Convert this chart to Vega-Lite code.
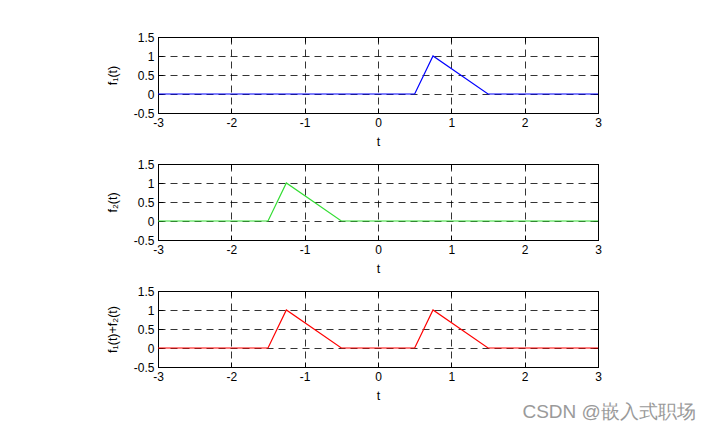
{
  "$schema": "https://vega.github.io/schema/vega-lite/v6.json",
  "padding": {"left": 105, "top": 30, "right": 5, "bottom": 5},
  "background": "white",
  "title": {
    "text": "CSDN @嵌入式职场",
    "orient": "bottom",
    "anchor": "end",
    "dx": 94,
    "offset": 1,
    "fontSize": 19,
    "fontWeight": "normal",
    "color": "#9a9a9a"
  },
  "config": {
    "font": "Liberation Sans",
    "view": {"stroke": "black", "strokeWidth": 1},
    "axis": {
      "labelFontSize": 12,
      "labelColor": "black",
      "labelPadding": 9,
      "labelFlush": false,
      "labelExpr": "'' + datum.value",
      "domainColor": "black",
      "tickColor": "black",
      "tickSize": -5,
      "gridColor": "black",
      "gridOpacity": 1,
      "gridDash": [7, 5],
      "gridWidth": 0.8,
      "titleFontSize": 12.5,
      "titleFontWeight": "normal",
      "titleColor": "black",
      "zindex": 1
    },
    "line": {"strokeWidth": 1.2}
  },
  "datasets": {
    "sig": [
      {"t": -3, "f1": 0, "f2": 0, "s": 0},
      {"t": -1.5, "f1": 0, "f2": 0, "s": 0},
      {"t": -1.25, "f1": 0, "f2": 1, "s": 1},
      {"t": -0.5, "f1": 0, "f2": 0, "s": 0},
      {"t": 0.5, "f1": 0, "f2": 0, "s": 0},
      {"t": 0.75, "f1": 1, "f2": 0, "s": 1},
      {"t": 1.5, "f1": 0, "f2": 0, "s": 0},
      {"t": 3, "f1": 0, "f2": 0, "s": 0}
    ]
  },
  "data": {"name": "sig"},
  "spacing": 9,
  "vconcat": [
    {
      "width": 440,
      "height": 76,
      "resolve": {"axis": {"x": "independent", "y": "independent"}},
      "layer": [
        {
          "mark": {"type": "line", "color": "#0000ff"},
          "encoding": {
            "x": {"field": "t", "type": "quantitative", "scale": {"domain": [-3, 3], "nice": false}, "axis": {"values": [-3, -2, -1, 0, 1, 2, 3], "title": "t", "titlePadding": 7}},
            "y": {"field": "f1", "type": "quantitative", "scale": {"domain": [-0.5, 1.5], "nice": false, "zero": false}, "axis": {"values": [-0.5, 0, 0.5, 1, 1.5], "title": "f₁(t)", "titlePadding": 14}}
          }
        },
        {
          "mark": {"type": "line", "opacity": 0},
          "encoding": {
            "x": {"field": "t", "type": "quantitative", "axis": {"orient": "top", "values": [-3, -2, -1, 0, 1, 2, 3], "labels": false, "grid": false, "title": null}},
            "y": {"field": "f1", "type": "quantitative", "axis": {"orient": "right", "values": [-0.5, 0, 0.5, 1, 1.5], "labels": false, "grid": false, "title": null}}
          }
        }
      ]
    },
    {
      "width": 440,
      "height": 76,
      "resolve": {"axis": {"x": "independent", "y": "independent"}},
      "layer": [
        {
          "mark": {"type": "line", "color": "#33dd33"},
          "encoding": {
            "x": {"field": "t", "type": "quantitative", "scale": {"domain": [-3, 3], "nice": false}, "axis": {"values": [-3, -2, -1, 0, 1, 2, 3], "title": "t", "titlePadding": 7}},
            "y": {"field": "f2", "type": "quantitative", "scale": {"domain": [-0.5, 1.5], "nice": false, "zero": false}, "axis": {"values": [-0.5, 0, 0.5, 1, 1.5], "title": "f₂(t)", "titlePadding": 14}}
          }
        },
        {
          "mark": {"type": "line", "opacity": 0},
          "encoding": {
            "x": {"field": "t", "type": "quantitative", "axis": {"orient": "top", "values": [-3, -2, -1, 0, 1, 2, 3], "labels": false, "grid": false, "title": null}},
            "y": {"field": "f2", "type": "quantitative", "axis": {"orient": "right", "values": [-0.5, 0, 0.5, 1, 1.5], "labels": false, "grid": false, "title": null}}
          }
        }
      ]
    },
    {
      "width": 440,
      "height": 76,
      "resolve": {"axis": {"x": "independent", "y": "independent"}},
      "layer": [
        {
          "mark": {"type": "line", "color": "#ff0000"},
          "encoding": {
            "x": {"field": "t", "type": "quantitative", "scale": {"domain": [-3, 3], "nice": false}, "axis": {"values": [-3, -2, -1, 0, 1, 2, 3], "title": "t", "titlePadding": 7}},
            "y": {"field": "s", "type": "quantitative", "scale": {"domain": [-0.5, 1.5], "nice": false, "zero": false}, "axis": {"values": [-0.5, 0, 0.5, 1, 1.5], "title": "f₁(t)+f₂(t)", "titlePadding": 14}}
          }
        },
        {
          "mark": {"type": "line", "opacity": 0},
          "encoding": {
            "x": {"field": "t", "type": "quantitative", "axis": {"orient": "top", "values": [-3, -2, -1, 0, 1, 2, 3], "labels": false, "grid": false, "title": null}},
            "y": {"field": "s", "type": "quantitative", "axis": {"orient": "right", "values": [-0.5, 0, 0.5, 1, 1.5], "labels": false, "grid": false, "title": null}}
          }
        }
      ]
    }
  ]
}
